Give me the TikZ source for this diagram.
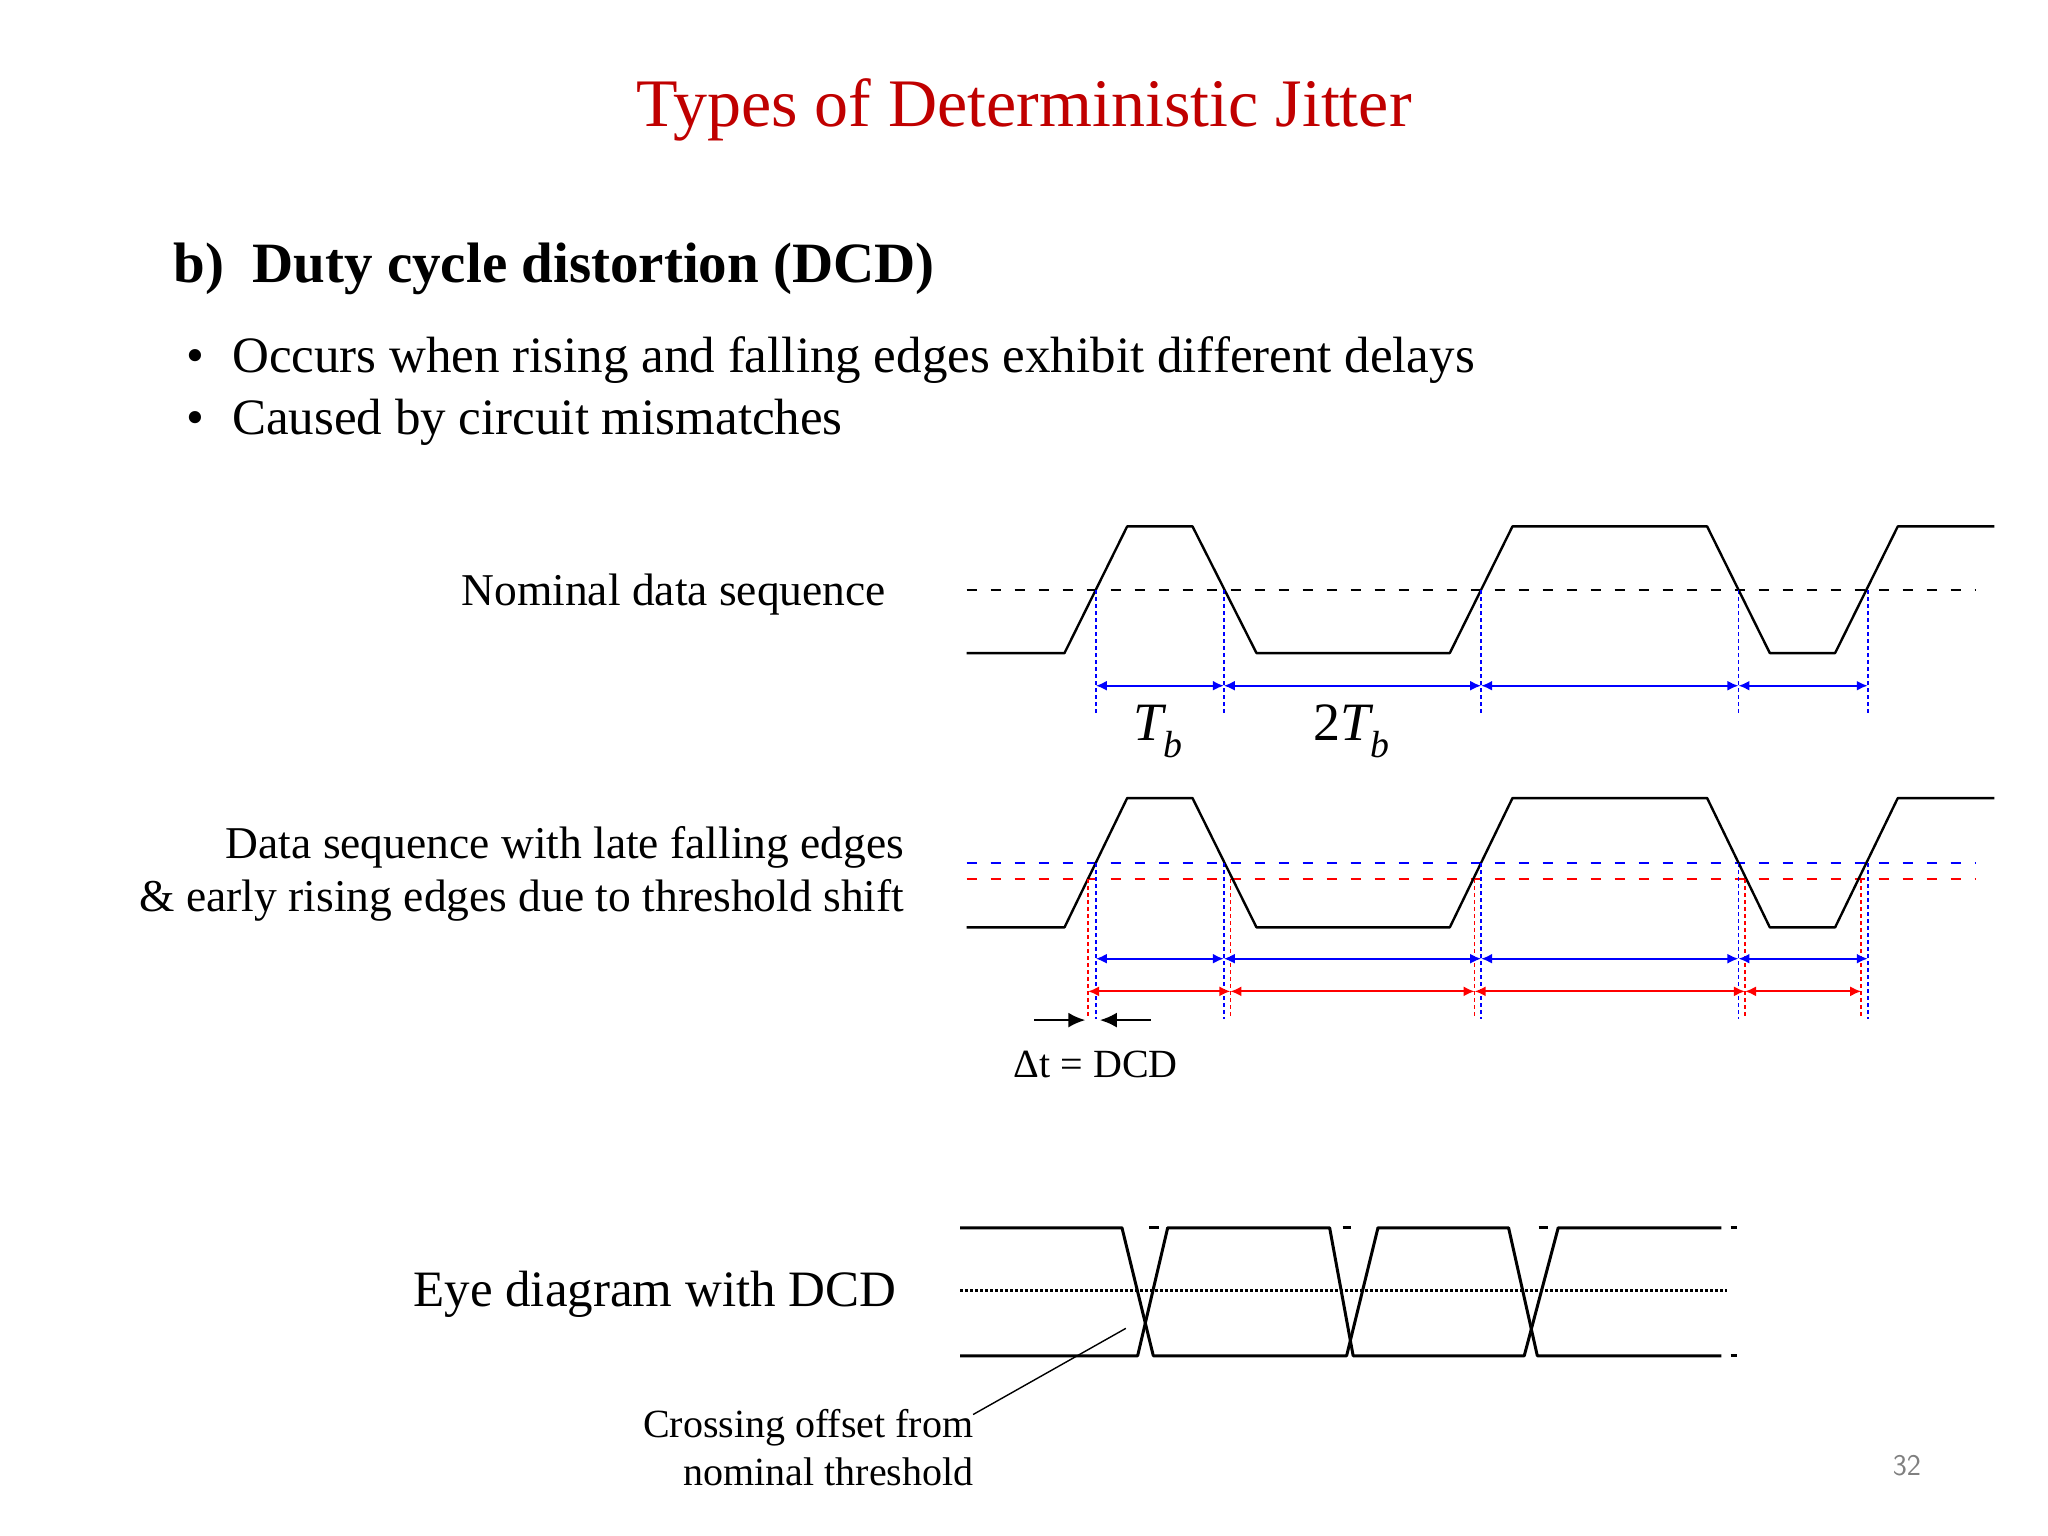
\documentclass[tikz,border=0pt]{standalone}
\usepackage{fontspec}
\setmainfont{Liberation Serif}
\usetikzlibrary{arrows.meta}
\definecolor{titlered}{RGB}{192,0,0}
\begin{document}
\begin{tikzpicture}[x=1.306pt,y=-1.306pt,
  wave/.style={line width=2.4pt,line join=round},
  thr/.style={dash pattern=on 10pt off 14pt,line width=1.8pt},
  vdot/.style={dash pattern=on 4pt off 3pt,line width=1.6pt},
  barr/.style={blue,line width=2pt,{Latex[length=11pt,width=10pt]}-{Latex[length=11pt,width=10pt]}},
  rarr/.style={red,line width=2pt,{Latex[length=11pt,width=10pt]}-{Latex[length=11pt,width=10pt]}},
  lbl/.style={font=\fontsize{45.5}{53}\selectfont,anchor=east}]
\useasboundingbox (0,0) rectangle (1568,1176);
\node[titlered,font=\fontsize{68}{72}\selectfont] (title) at (784,84) {Types of Deterministic Jitter};
\node[anchor=west,font=\fontsize{57}{62}\selectfont\bfseries] (head) at (130,206) {b)\ \ Duty cycle distortion (DCD)};
\node[anchor=west,font=\fontsize{51}{58}\selectfont] (b1) at (140,276) {•\hspace{28pt}Occurs when rising and falling edges exhibit different delays};
\node[anchor=west,font=\fontsize{51}{58}\selectfont] (b2) at (140,323) {•\hspace{28pt}Caused by circuit mismatches};
% waveform 1
\node[lbl] (n1) at (681,455) {Nominal data sequence};
\draw[thr] (740,452) -- (1512,452);
\draw[wave] (740,500) -- (815,500) -- (863,403) -- (913,403) -- (962,500) -- (1110,500) -- (1158,403) -- (1307,403) -- (1355,500) -- (1405,500) -- (1453,403) -- (1527,403);
\foreach \x in {839,937,1134,1331,1430} \draw[blue,vdot] (\x,452) -- (\x,547);
\draw[barr] (839,525) -- (937,525);
\draw[barr] (937,525) -- (1134,525);
\draw[barr] (1134,525) -- (1331,525);
\draw[barr] (1331,525) -- (1430,525);
\node[font=\fontsize{54}{58}\selectfont\itshape] (tb) at (887,560) {T\textsubscript{b}};
\node[font=\fontsize{54}{58}\selectfont\itshape] (tb2) at (1035,560) {\textup{2}T\textsubscript{b}};
% waveform 2
\node[lbl,align=right] (n2) at (695,669) {Data sequence with late falling edges\\\& early rising edges due to threshold shift};
\draw[thr,blue] (740,661) -- (1512,661);
\draw[thr,red] (740,673) -- (1512,673);
\draw[wave] (740,710) -- (815,710) -- (863,611) -- (913,611) -- (962,710) -- (1110,710) -- (1158,611) -- (1307,611) -- (1355,710) -- (1405,710) -- (1453,611) -- (1527,611);
\foreach \x in {839,937,1134,1331,1430} \draw[blue,vdot] (\x,661) -- (\x,780);
\foreach \x in {833,942,1129,1336,1425} \draw[red,vdot] (\x,673) -- (\x,780);
\draw[barr] (839,734) -- (937,734);
\draw[barr] (937,734) -- (1134,734);
\draw[barr] (1134,734) -- (1331,734);
\draw[barr] (1331,734) -- (1430,734);
\draw[rarr] (833,759) -- (942,759);
\draw[rarr] (942,759) -- (1129,759);
\draw[rarr] (1129,759) -- (1336,759);
\draw[rarr] (1336,759) -- (1425,759);
\coordinate (da) at (792,781); \coordinate (db) at (831,781);
\coordinate (dc) at (881,781); \coordinate (dd) at (842,781);
\draw[line width=2.6pt,-{Latex[length=17pt,width=15pt]}] (da) -- (db);
\draw[line width=2.6pt,-{Latex[length=17pt,width=15pt]}] (dc) -- (dd);
\node[font=\fontsize{40}{46}\selectfont] (dt) at (839,815) {Δt = DCD};
% eye diagram
\node[lbl,font=\fontsize{51}{56}\selectfont] (eye) at (689,991) {Eye diagram with DCD};
\draw[dash pattern=on 2.5pt off 2.5pt,line width=2.4pt] (735,988) -- (1322,988);
\begin{scope}[line width=3pt,line join=round]
\draw (735,940) -- (859,940) -- (883,1038) -- (1031,1038) -- (1055,940) -- (1155,940) -- (1177,1038) -- (1318,1038);
\draw (735,1038) -- (871,1038) -- (894,940) -- (1018,940) -- (1036,1038) -- (1167,1038) -- (1193,940) -- (1318,940);
\draw (880,940) -- (887,940);
\draw (1028,940) -- (1034,940);
\draw (1178,940) -- (1185,940);
\draw (1325,940) -- (1330,940);
\draw (1325,1038) -- (1330,1038);
\end{scope}
\coordinate (ea) at (862,1017);
\node[anchor=east,align=right,font=\fontsize{40}{48}\selectfont] (cr) at (748,1108) {Crossing offset from\\nominal threshold};
\draw[line width=1.4pt] (ea) -- (745,1083);
\node[gray,font=\fontsize{30}{32}\selectfont\sffamily] (pg) at (1460,1122) {32};
\end{tikzpicture}
\end{document}
